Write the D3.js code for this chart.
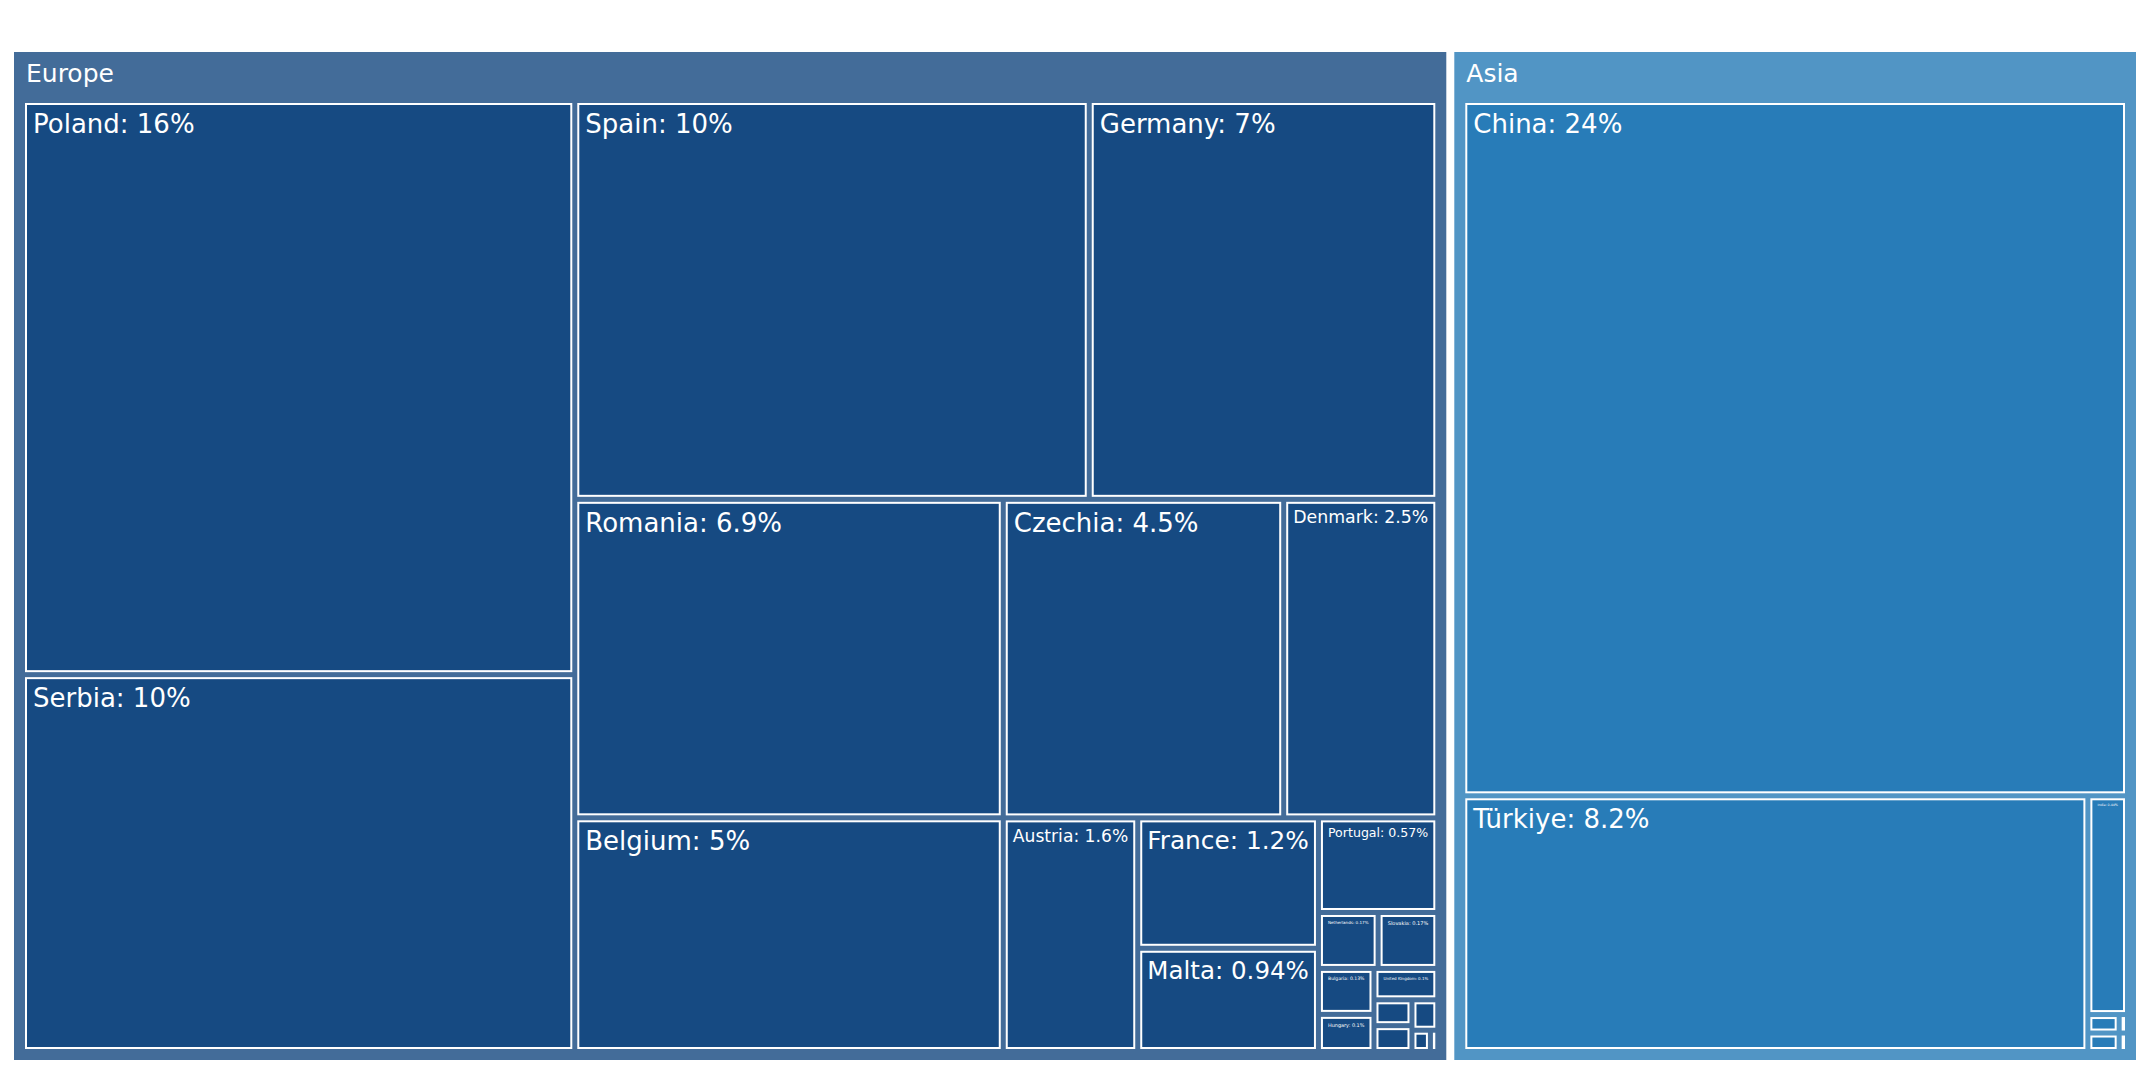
<!DOCTYPE html>
<html>
<head>
  <meta charset="utf-8">
  <title>Treemap</title>
  <script src="https://cdn.jsdelivr.net/npm/d3@7"></script>
  <style>
    body { margin: 0; background: #fff; }
    text { font-family: "DejaVu Sans", sans-serif; fill: #fff; }
  </style>
</head>
<body>
<script>
  // data: share of total, in percent
  const regions = ["Europe", "Asia"];
  const europeNames = ["Poland", "Serbia", "Spain", "Germany", "Romania", "Belgium", "Czechia",
    "Denmark", "Austria", "France", "Malta", "Portugal", "Netherlands", "Slovakia", "Bulgaria",
    "Hungary", "United Kingdom", "Ireland", "Greece", "Sweden", "Italy", "Croatia"];
  const europeValues = [16.15, 10.6, 10.45, 7.08, 6.95, 5.1, 4.55,
    2.5, 1.6, 1.2, 0.95, 0.575, 0.17, 0.17, 0.13,
    0.105, 0.102, 0.05, 0.05, 0.04, 0.02, 0.008];
  const asiaNames = ["China", "Türkiye", "India", "Japan", "Israel", "Korea", "Georgia"];
  const asiaValues = [24, 8.3, 0.45, 0.03, 0.03, 0.008, 0.008];

  const regionColor = { Europe: "#436c99", Asia: "#5195c5" };
  const leafColor = { Europe: "#164a82", Asia: "#287cb8" };

  const w = 2150, h = 1075;
  const fmt = d3.format(".2");

  const data = {
    name: "root",
    children: [
      { name: regions[0], children: europeNames.map((n, i) => ({ name: n, value: europeValues[i] })) },
      { name: regions[1], children: asiaNames.map((n, i) => ({ name: n, value: asiaValues[i] })) }
    ]
  };

  const root = d3.hierarchy(data)
    .sum(d => d.value || 0)
    .sort((a, b) => b.value - a.value);
  const total = root.value;

  d3.treemap()
    .tile(d3.treemapSquarify.ratio(1))
    .size([2122, 1008])
    .paddingInner(d => d.depth === 0 ? 8 : 5)
    .paddingTop(d => d.depth === 1 ? 51 : 0)
    .paddingLeft(d => d.depth === 1 ? 11 : 0)
    .paddingRight(d => d.depth === 1 ? 11 : 0)
    .paddingBottom(d => d.depth === 1 ? 11 : 0)(root);

  const svg = d3.select("body").append("svg")
    .attr("width", w)
    .attr("height", h);

  const g = svg.append("g").attr("transform", "translate(14,52)");

  // region boxes
  const groups = g.selectAll("g.region")
    .data(root.children)
    .enter().append("g").attr("class", "region");

  groups.append("rect")
    .attr("x", d => d.x0).attr("y", d => d.y0)
    .attr("width", d => d.x1 - d.x0).attr("height", d => d.y1 - d.y0)
    .attr("fill", d => regionColor[d.data.name]);

  groups.append("text")
    .attr("x", d => d.x0 + 12)
    .attr("y", d => d.y0 + 30)
    .attr("font-size", 25)
    .text(d => d.data.name);

  // leaves
  const leaves = g.selectAll("g.leaf")
    .data(root.leaves())
    .enter().append("g").attr("class", "leaf");

  leaves.append("rect")
    .attr("x", d => d.x0 + 1).attr("y", d => d.y0 + 1)
    .attr("width", d => Math.max(0, d.x1 - d.x0 - 2))
    .attr("height", d => Math.max(0, d.y1 - d.y0 - 2))
    .attr("fill", d => leafColor[d.parent.data.name])
    .attr("stroke", "#fff")
    .attr("stroke-width", 2);

  leaves.append("text")
    .attr("font-size", 26)
    .text(d => d.data.name + ": " + fmt(d.value / total * 100) + "%")
    .each(function (d) {
      const el = d3.select(this);
      const len = this.getComputedTextLength();
      const bw = d.x1 - d.x0, bh = d.y1 - d.y0;
      let size = 26;
      const fitW = 26 * (bw - 14) / len;
      const fitH = (bh - 8) / 1.2;
      size = Math.min(size, fitW, fitH);
      if (size < 3) { el.remove(); return; }
      el.attr("font-size", size);
      if (size < 26) {
        el.attr("text-anchor", "middle")
          .attr("x", (d.x0 + d.x1) / 2)
          .attr("y", d.y0 + 5 + size * 0.95);
      } else {
        el.attr("x", d.x0 + 8)
          .attr("y", d.y0 + 30);
      }
    });
</script>
</body>
</html>
